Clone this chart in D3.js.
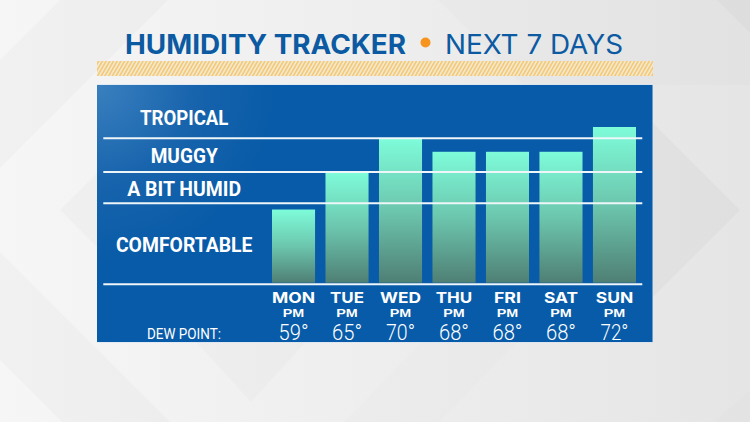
<!DOCTYPE html>
<html><head><meta charset="utf-8">
<script src="https://cdn.jsdelivr.net/npm/d3@7"></script>
<style>html,body{margin:0;padding:0;background:#e6e6e6;overflow:hidden}svg{display:block}</style>
</head><body><svg id="c" width="750" height="422"></svg>
<script>
const days = ["MON","TUE","WED","THU","FRI","SAT","SUN"];
const periods = ["PM","PM","PM","PM","PM","PM","PM"];
const dewPoints = [59,65,70,68,68,68,72];
const bands = ["COMFORTABLE","A BIT HUMID","MUGGY","TROPICAL"];
const bandEdges = [47,60,65,70];
const scaleStops = [47,60,65,70,72];
const titleBold = "HUMIDITY TRACKER";
const titleLight = "NEXT 7 DAYS";
const dewLabel = "DEW POINT:";

const svg = d3.select("#c");
const defs = svg.append("defs");
const bg = defs.append("linearGradient").attr("id","bg").attr("x1",0).attr("y1",0).attr("x2",1).attr("y2",0);
bg.append("stop").attr("offset",0).attr("stop-color","#f6f6f6");
bg.append("stop").attr("offset",.5).attr("stop-color","#eeeeee");
bg.append("stop").attr("offset",1).attr("stop-color","#e5e5e5");
const pg = defs.append("radialGradient").attr("id","panel").attr("gradientUnits","userSpaceOnUse").attr("cx",97).attr("cy",85).attr("r",180);
pg.append("stop").attr("offset",0).attr("stop-color","#3a80bf");
pg.append("stop").attr("offset",.55).attr("stop-color","#1763ac");
pg.append("stop").attr("offset",1).attr("stop-color","#085ba8");
const barM = defs.append("linearGradient").attr("id","barLow").attr("x1",0).attr("x2",0).attr("y1",0).attr("y2",1);
barM.append("stop").attr("offset",0).attr("stop-color","#7efcd9");
barM.append("stop").attr("offset",.5).attr("stop-color","#6cc6ae");
barM.append("stop").attr("offset",1).attr("stop-color","#4f7f74");
const hatch = defs.append("pattern").attr("id","hatch").attr("patternUnits","userSpaceOnUse").attr("width",3.2).attr("height",3.2).attr("patternTransform","rotate(30)");
hatch.append("rect").attr("width",3.2).attr("height",3.2).attr("fill","#f4ead0");
hatch.append("rect").attr("width",1.7).attr("height",3.2).attr("fill","#f3ca7c");

svg.append("rect").attr("width",750).attr("height",422).attr("fill","url(#bg)");
const facets = [
 {p:"60,0 168,0 0,168 0,60",o:.018},
 {p:"60,210 100,170 100,250",o:.02},
 {p:"0,252 170,422 62,422 0,360",o:.018},
 {p:"196,342 306,342 251,402",o:.015},
 {p:"421,342 344,422 440,422 517,342",o:.006},
 {p:"438,0 750,0 750,85 523,85",o:.012},
 {p:"740,210 650,120 650,300",o:.022},
 {p:"717,0 750,0 750,33",o:.02},
 {p:"750,390 713,422 750,422",o:.008}
];
svg.append("g").selectAll("polygon").data(facets).join("polygon").attr("points",d=>d.p).attr("fill","#000").attr("fill-opacity",d=>d.o);

svg.append("rect").attr("x",97).attr("y",61).attr("width",556).attr("height",15).attr("fill","url(#hatch)");
svg.append("rect").attr("x",97).attr("y",84.5).attr("width",556).attr("height",258).attr("fill","#cfe2f2");
svg.append("rect").attr("x",97).attr("y",85).attr("width",555.5).attr("height",257).attr("fill","url(#panel)");

const x = d3.scaleBand().domain(days).range([272,636]).paddingInner(0.195).paddingOuter(0);
const y = d3.scaleLinear().domain(scaleStops).range([284.3,203.3,172,138.3,127]);

svg.append("g").selectAll("rect").data(dewPoints).join("rect")
 .attr("x",(d,i)=>x(days[i])).attr("width",x.bandwidth())
 .attr("y",d=>y(d)).attr("height",d=>y(47)-1.6-y(d))
 .attr("fill","url(#barLow)");

svg.append("g").selectAll("line").data(bandEdges).join("line")
 .attr("x1",103.3).attr("x2",642.3).attr("y1",d=>y(d)).attr("y2",d=>y(d))
 .attr("stroke","#eef6fa").attr("stroke-width",2);

const T = (s,px,py,size,w,fam,fill,anchor,len)=>{
 const t = svg.append("text").text(s).attr("x",px).attr("y",py).attr("font-size",size).attr("font-weight",w).attr("font-family",fam).attr("fill",fill).attr("text-anchor",anchor||"middle");
 if(len) t.attr("textLength",len).attr("lengthAdjust","spacingAndGlyphs");
 return t;
};

const bandBase = [252,195.5,163.3,125.3];
const bandLen = [136.5,114,67,88.5];
bands.forEach((b,i)=>T(b,184.2,bandBase[i],20.5,700,"Roboto","#fff","middle",bandLen[i]));

T(titleBold,125,54,26.8,700,"Inter","#0b5aa2","start",281);
svg.append("circle").attr("cx",425.5).attr("cy",42.5).attr("r",5).attr("fill","#f7941d");
T(titleLight,445,54,26.8,400,"Inter","#0b5aa2","start",178);

const dayLen = [43,34,41,36.5,27,34,37.5];
const dewLen = [30,30,29,30,30,30,28];
days.forEach((d,i)=>{
 const cx = x(d)+x.bandwidth()/2;
 T(d,cx,302.7,15,700,"Inter","#fff","middle",dayLen[i]);
 T(periods[i],cx,316.7,11.6,700,"'Liberation Sans'","#fff","middle",21.5);
 T(dewPoints[i]+"°",cx,340,22.5,300,"Roboto","#fff","middle",dewLen[i]);
});
T(dewLabel,184,338.5,15.5,400,"Roboto","#fff","middle",74);
</script></body></html>
